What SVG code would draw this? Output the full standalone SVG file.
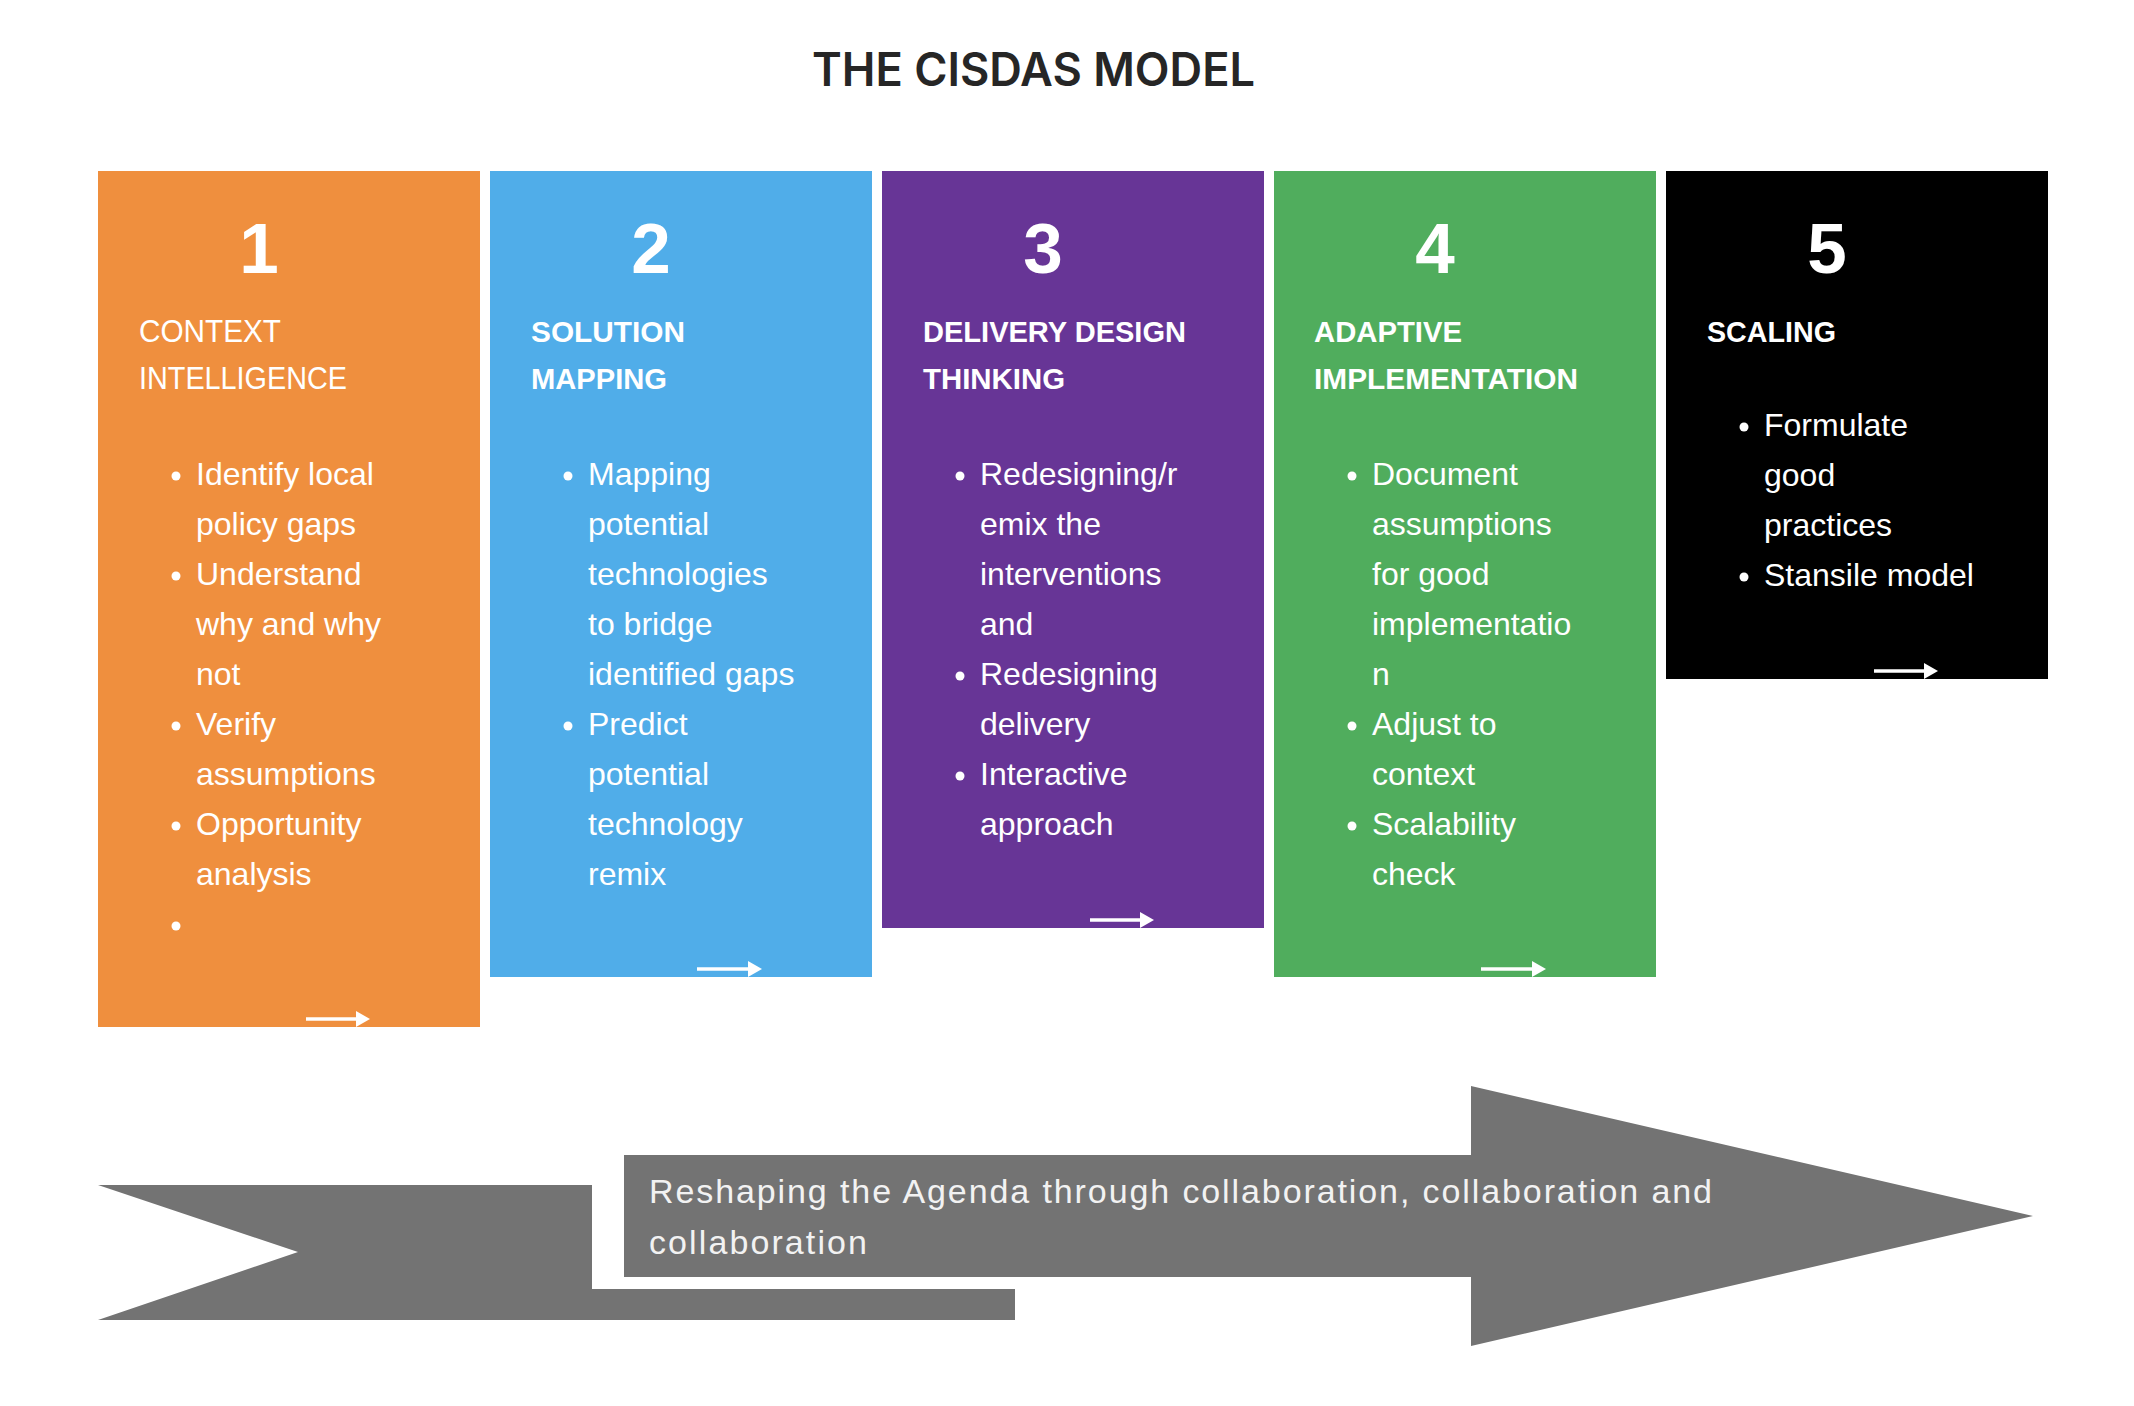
<svg xmlns="http://www.w3.org/2000/svg" width="2134" height="1406" viewBox="0 0 2134 1406">
<style>
.title{font-family:"Inter","Liberation Sans",Arial,sans-serif;font-weight:600;font-size:46px;fill:#262626}
.num{font-family:"Liberation Sans",Arial,sans-serif;font-weight:bold;font-size:71px;fill:#fff;text-anchor:middle}
.hd{font-family:"Liberation Sans",Arial,sans-serif;font-weight:bold;font-size:30px;fill:#fff}
.hd1{font-family:"Liberation Sans",Arial,sans-serif;font-weight:normal;font-size:31px;fill:#fff}
.bt{font-family:"Liberation Sans",Arial,sans-serif;font-size:32px;fill:#fff}
.dot{fill:#fff}
.flow{stroke:#fff;stroke-width:3.5;fill:none}
.band{fill:#737373}
.bandtxt{font-family:"Liberation Sans",Arial,sans-serif;font-size:34px;fill:#f2f2f2}
</style>
<defs>
<marker id="ah" markerWidth="14" markerHeight="16" refX="0" refY="8" orient="auto" markerUnits="userSpaceOnUse">
<path d="M0,0 L14,8 L0,16 z" fill="#fff"/>
</marker>
</defs>
<rect width="2134" height="1406" fill="#fff"/>
<text class="title" x="812" y="86" textLength="443" lengthAdjust="spacingAndGlyphs">THE CISDAS MODEL</text>

<g id="node1">
<rect x="98" y="171" width="382" height="856" fill="#EF8F3E"/>
<text class="num" x="259" y="273">1</text>
<text class="hd1" x="139" y="342" textLength="142" lengthAdjust="spacingAndGlyphs">CONTEXT</text>
<text class="hd1" x="139" y="389" textLength="208" lengthAdjust="spacingAndGlyphs">INTELLIGENCE</text>
<circle class="dot" cx="176" cy="476" r="4.5"/>
<circle class="dot" cx="176" cy="576" r="4.5"/>
<circle class="dot" cx="176" cy="726" r="4.5"/>
<circle class="dot" cx="176" cy="826" r="4.5"/>
<circle class="dot" cx="176" cy="926" r="4.5"/>
<text class="bt" x="196" y="485">Identify local</text>
<text class="bt" x="196" y="535">policy gaps</text>
<text class="bt" x="196" y="585">Understand</text>
<text class="bt" x="196" y="635">why and why</text>
<text class="bt" x="196" y="685">not</text>
<text class="bt" x="196" y="735">Verify</text>
<text class="bt" x="196" y="785">assumptions</text>
<text class="bt" x="196" y="835">Opportunity</text>
<text class="bt" x="196" y="885">analysis</text>
</g>

<g id="node2">
<rect x="490" y="171" width="382" height="806" fill="#50ADE9"/>
<text class="num" x="651" y="273">2</text>
<text class="hd" x="531" y="342" textLength="154" lengthAdjust="spacingAndGlyphs">SOLUTION</text>
<text class="hd" x="531" y="389" textLength="136" lengthAdjust="spacingAndGlyphs">MAPPING</text>
<circle class="dot" cx="568" cy="476" r="4.5"/>
<circle class="dot" cx="568" cy="726" r="4.5"/>
<text class="bt" x="588" y="485">Mapping</text>
<text class="bt" x="588" y="535">potential</text>
<text class="bt" x="588" y="585">technologies</text>
<text class="bt" x="588" y="635">to bridge</text>
<text class="bt" x="588" y="685">identified gaps</text>
<text class="bt" x="588" y="735">Predict</text>
<text class="bt" x="588" y="785">potential</text>
<text class="bt" x="588" y="835">technology</text>
<text class="bt" x="588" y="885">remix</text>
</g>

<g id="node3">
<rect x="882" y="171" width="382" height="757" fill="#673596"/>
<text class="num" x="1043" y="273">3</text>
<text class="hd" x="923" y="342" textLength="263" lengthAdjust="spacingAndGlyphs">DELIVERY DESIGN</text>
<text class="hd" x="923" y="389" textLength="142" lengthAdjust="spacingAndGlyphs">THINKING</text>
<circle class="dot" cx="960" cy="476" r="4.5"/>
<circle class="dot" cx="960" cy="676" r="4.5"/>
<circle class="dot" cx="960" cy="776" r="4.5"/>
<text class="bt" x="980" y="485">Redesigning/r</text>
<text class="bt" x="980" y="535">emix the</text>
<text class="bt" x="980" y="585">interventions</text>
<text class="bt" x="980" y="635">and</text>
<text class="bt" x="980" y="685">Redesigning</text>
<text class="bt" x="980" y="735">delivery</text>
<text class="bt" x="980" y="785">Interactive</text>
<text class="bt" x="980" y="835">approach</text>
</g>

<g id="node4">
<rect x="1274" y="171" width="382" height="806" fill="#50AD5D"/>
<text class="num" x="1435" y="273">4</text>
<text class="hd" x="1314" y="342" textLength="148" lengthAdjust="spacingAndGlyphs">ADAPTIVE</text>
<text class="hd" x="1314" y="389" textLength="264" lengthAdjust="spacingAndGlyphs">IMPLEMENTATION</text>
<circle class="dot" cx="1352" cy="476" r="4.5"/>
<circle class="dot" cx="1352" cy="726" r="4.5"/>
<circle class="dot" cx="1352" cy="826" r="4.5"/>
<text class="bt" x="1372" y="485">Document</text>
<text class="bt" x="1372" y="535">assumptions</text>
<text class="bt" x="1372" y="585">for good</text>
<text class="bt" x="1372" y="635">implementatio</text>
<text class="bt" x="1372" y="685">n</text>
<text class="bt" x="1372" y="735">Adjust to</text>
<text class="bt" x="1372" y="785">context</text>
<text class="bt" x="1372" y="835">Scalability</text>
<text class="bt" x="1372" y="885">check</text>
</g>

<g id="node5">
<rect x="1666" y="171" width="382" height="508" fill="#000"/>
<text class="num" x="1827" y="273">5</text>
<text class="hd" x="1707" y="342" textLength="129" lengthAdjust="spacingAndGlyphs">SCALING</text>
<circle class="dot" cx="1744" cy="427" r="4.5"/>
<circle class="dot" cx="1744" cy="577" r="4.5"/>
<text class="bt" x="1764" y="436">Formulate</text>
<text class="bt" x="1764" y="486">good</text>
<text class="bt" x="1764" y="536">practices</text>
<text class="bt" x="1764" y="586">Stansile model</text>
</g>

<g id="connectors">
<line class="flow" x1="306" y1="1019" x2="356" y2="1019" marker-end="url(#ah)"/>
<line class="flow" x1="697" y1="969" x2="748" y2="969" marker-end="url(#ah)"/>
<line class="flow" x1="1090" y1="920" x2="1140" y2="920" marker-end="url(#ah)"/>
<line class="flow" x1="1481" y1="969" x2="1532" y2="969" marker-end="url(#ah)"/>
<line class="flow" x1="1874" y1="671" x2="1924" y2="671" marker-end="url(#ah)"/>
</g>

<g id="band">
<polygon class="band" points="98,1185 592,1185 592,1289 1015,1289 1015,1320 98,1320 298,1252"/>
<polygon class="band" points="624,1155 1471,1155 1471,1086 2033,1216 1471,1346 1471,1277 624,1277"/>
<text class="bandtxt" x="649" y="1203" textLength="1063" lengthAdjust="spacing">Reshaping the Agenda through collaboration, collaboration and</text>
<text class="bandtxt" x="649" y="1254" textLength="218" lengthAdjust="spacing">collaboration</text>
</g>
</svg>
